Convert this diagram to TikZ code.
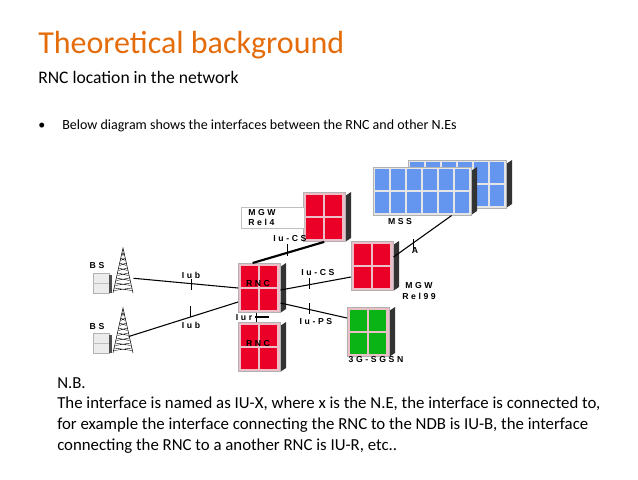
\documentclass[tikz,border=0pt]{standalone}
\usepackage{fontspec}
\setmainfont{Carlito}
\newfontfamily\diafont[LetterSpace=30]{Liberation Sans}
\usetikzlibrary{positioning}
\definecolor{titleorange}{RGB}{228,108,10}
\definecolor{cabred}{RGB}{235,0,40}
\definecolor{cabgreen}{RGB}{10,180,20}
\definecolor{cabblue}{RGB}{100,150,240}
\definecolor{cabrim}{RGB}{235,190,200}
\tikzset{
  px/.style={x=0.75pt,y=-0.75pt},
  link/.style={line width=0.8pt},
  tick/.style={line width=0.5pt},
  lbl/.style={font=\diafont\fontsize{6.5}{7}\selectfont\bfseries, inner sep=0pt},
  cabinet/.style={draw=gray!60, fill=cabrim, minimum width=31.5pt, minimum height=37pt, inner sep=0pt, anchor=north west},
}
% cabinet: name, x, y, panel colour
\newcommand\cabin[4]{%
  \fill[gray!40!black] (#2+42,#3+4) -- (#2+48,#3) -- (#2+48,#3+46) -- (#2+42,#3+50) -- cycle;
  \node[cabinet] (#1) at (#2,#3) {};
  \foreach \i in {0,1} \foreach \j in {0,1}
    \fill[#4] (#2+3+\i*19,#3+3+\j*23) rectangle ++(17,21);
}
\newcommand\rack[3]{%
  \fill[gray!40!black] (#2+98,#3+4) -- (#2+104,#3) -- (#2+104,#3+44) -- (#2+98,#3+48) -- cycle;
  \node[draw=gray!60, fill=gray!20, minimum width=73.5pt, minimum height=36pt, inner sep=0pt, anchor=north west] (#1) at (#2,#3) {};
  \foreach \i in {0,...,5} \foreach \j in {0,1}
    \fill[cabblue] (#2+2+\i*16,#3+2+\j*23) rectangle ++(14,21);
}
\newcommand\tower[3]{%
  \node[inner sep=0pt, minimum width=15pt, minimum height=33pt, anchor=north west] (#1) at (#2,#3) {};
  \draw[line width=0.4pt] (#2,#3+45) -- (#2+10,#3) -- (#2+20,#3+45);
  \foreach \k in {1,...,8}
    \draw[line width=0.3pt] (#2+10-\k*1.1,#3+\k*5) -- (#2+10+\k*1.1,#3+\k*5+2.5) (#2+10+\k*1.1,#3+\k*5) -- (#2+10-\k*1.1,#3+\k*5+2.5);
}
\newcommand\bsbox[3]{%
  \node[draw=gray!60, fill=gray!15, minimum width=12pt, minimum height=15pt, inner sep=0pt, anchor=north west] (#1) at (#2,#3) {};
  \fill[gray!60!black] (#2+16,#3+2) rectangle (#2+19,#3+20);
  \draw[gray!50] (#2,#3+10) -- (#2+16,#3+10);
}
\begin{document}
\begin{tikzpicture}[px]
\useasboundingbox (0,0) rectangle (638,479);
% titles
\node[anchor=west, text=titleorange, font=\fontsize{24}{27}\selectfont, inner sep=0pt] (title) at (38,45) {Theoretical background};
\node[anchor=west, font=\fontsize{13.2}{15}\selectfont, inner sep=0pt] (sub) at (38,77) {RNC location in the network};
\node[anchor=west, font=\fontsize{10.5}{12}\selectfont, inner sep=0pt] (bul) at (38,126) {•};
\node[anchor=west, font=\fontsize{10.5}{12}\selectfont, inner sep=0pt] (bultext) at (62,126) {Below diagram shows the interfaces between the RNC and other N.Es};
% equipment
\rack{mssb}{408}{160}{}
\rack{mss}{373}{167}{}
\cabin{mgw4}{303}{192}{cabred}
\cabin{mgw99}{351}{241}{cabred}
\cabin{sgsn}{347}{307}{cabgreen}
\cabin{rnca}{238}{263}{cabred}
\cabin{rncb}{238}{322}{cabred}
\bsbox{bsa}{93}{273}
\bsbox{bsb}{93}{333}
\tower{twa}{113}{248}
\tower{twb}{113}{308}
\node[draw=gray!50, fill=white, anchor=north west, minimum width=47pt, minimum height=16pt, inner sep=0pt] (mgw4box) at (241,207) {};
% links
\draw[link] ([yshift=-6pt]twa.east) -- (rnca.west |- 0,288);
\draw[link] ([xshift=4pt,yshift=12pt]twb.south) -- (rnca.west |- 0,302);
\draw[line width=1.6pt] ([xshift=-5pt]rnca.north) -- (mgw4.south);
\draw[link] (rnca.east |- 0,290) -- (mgw99.west |- 0,277);
\draw[link] (rnca.east |- 0,303) -- (sgsn.west |- 0,318);
\draw[link] (mgw99.east |- 0,257) -- ([xshift=22pt]mss.south);
\draw[line width=1.2pt] ([xshift=-2pt]rnca.south) -- ([xshift=-2pt]rncb.north);
% ticks
\draw[tick] (191,279) -- (191,290);
\draw[tick] (190,306) -- (190,317);
\draw[tick] (287,244) -- (287,256);
\draw[tick] (309,278) -- (309,289);
\draw[tick] (309,303) -- (309,314);
\draw[tick] (413,239) -- (413,250);
\draw[line width=1.2pt] (255,317) -- (269,317);
% labels
\node[lbl] (lbsa) at (97,266) {BS};
\node[lbl] (lbsb) at (97,327) {BS};
\node[lbl] (liuba) at (191,275) {Iub};
\node[lbl] (liubb) at (191,325) {Iub};
\node[lbl] (liur) at (244,318) {Iur};
\node[lbl] (lcs1) at (290,239) {Iu-CS};
\node[lbl] (lcs2) at (318,273) {Iu-CS};
\node[lbl] (lps) at (316,322) {Iu-PS};
\node[lbl] (lrnca) at (258,284) {RNC};
\node[lbl] (lrncb) at (258,344) {RNC};
\node[lbl, anchor=west] (lmgw4) at (248,213) {MGW};
\node[lbl, anchor=west] (lrel4) at (248,222) {Rel4};
\node[lbl] (lmss) at (400,222) {MSS};
\node[lbl] (la) at (415,251) {A};
\node[lbl, anchor=west] (lmgw99) at (405,286) {MGW};
\node[lbl, anchor=west] (lrel99) at (402,296) {Rel99};
\node[lbl] (lsgsn) at (376,360) {3G-SGSN};
% note
\node[anchor=north west, align=left, font=\fontsize{12.6}{15.5}\selectfont, inner sep=0pt] (note) at (57,377)
  {N.B.\\The interface is named as IU-X, where x is the N.E, the interface is connected to,\\
   for example the interface connecting the RNC to the NDB is IU-B, the interface\\
   connecting the RNC to a another RNC is IU-R, etc..};
\end{tikzpicture}
\end{document}
